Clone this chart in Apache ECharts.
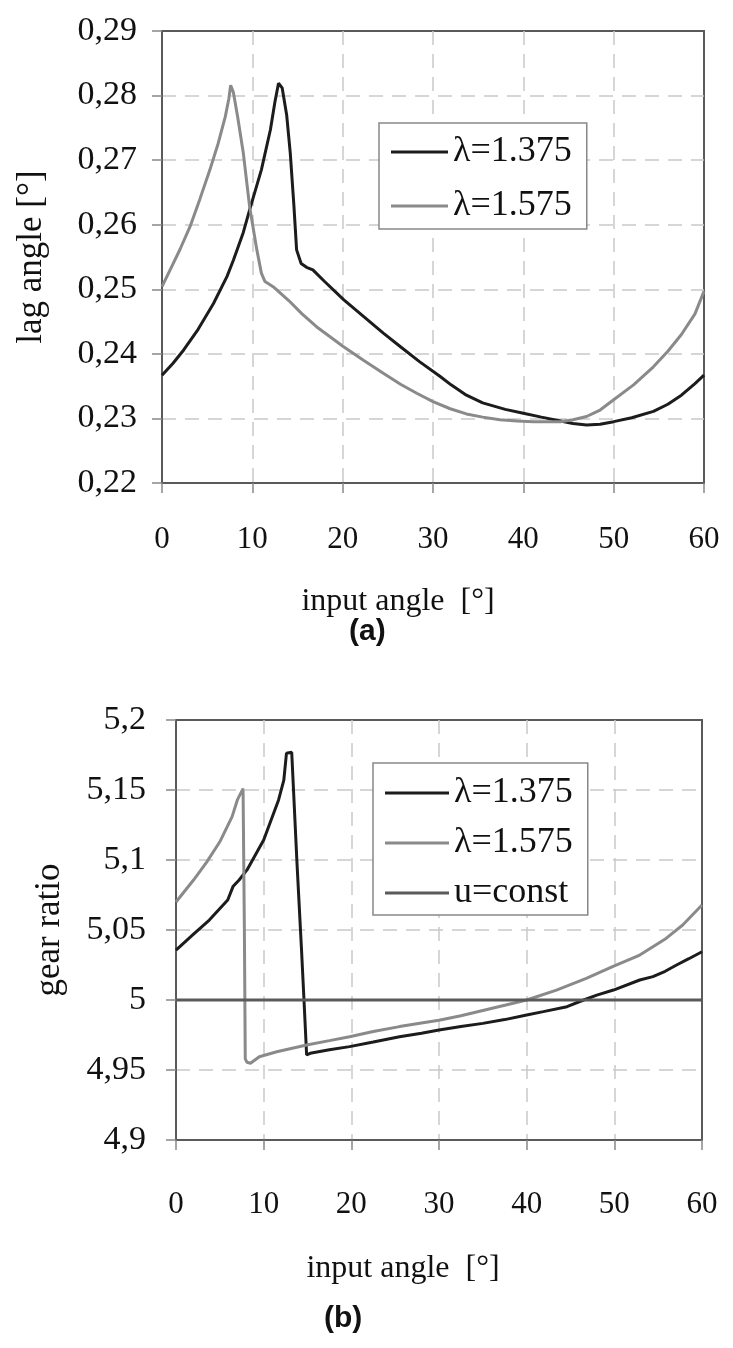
<!DOCTYPE html>
<html>
<head>
<meta charset="utf-8">
<script src="https://cdn.jsdelivr.net/npm/echarts@6/dist/echarts.min.js"></script>
<style>
  html, body { margin: 0; padding: 0; background: #fff; }
  #chart { width: 733px; height: 1348px; }
</style>
</head>
<body>
<div id="chart"></div>
<script>
// ---------- (a) lag angle ----------
const lagAngleX1 = [0, 1.2, 2.4, 4, 5.7, 7.2, 7.9, 9, 9.7, 11, 12, 12.5, 12.9, 13.3, 13.8, 14.2, 14.6, 14.9, 15.4, 16, 16.7, 18, 20.1, 22.3, 24.5, 26.4, 28.5, 30.8, 32, 33.7, 35.5, 38, 40, 42, 44.1, 45.5, 47, 48.5, 50, 52, 54.4, 56, 57.5, 59, 60];
const lagAngleY1 = [0.2367, 0.2385, 0.2406, 0.2438, 0.2478, 0.2520, 0.2545, 0.2588, 0.2623, 0.2685, 0.2747, 0.2790, 0.2819, 0.2812, 0.2770, 0.2711, 0.2630, 0.2561, 0.2540, 0.2534, 0.2530, 0.2512, 0.2484, 0.2458, 0.2432, 0.2411, 0.2388, 0.2365, 0.2352, 0.2336, 0.2324, 0.2314, 0.2308, 0.2302, 0.2296, 0.2292, 0.2290, 0.2291, 0.2295, 0.2301, 0.2311, 0.2322, 0.2336, 0.2354, 0.2367];
const lagAngleX2 = [0, 0.9, 2, 3.1, 4.2, 5.3, 6.2, 7.0, 7.4, 7.6, 7.9, 8.4, 9.0, 9.7, 10.5, 11.0, 11.4, 12.3, 14, 15.5, 17.1, 20.1, 22.3, 24.5, 26.4, 28.2, 30, 31.9, 33.7, 35.5, 37.4, 39.3, 41.1, 44.1, 45.5, 47, 48.5, 50, 52.2, 54.4, 56, 57.5, 59, 60];
const lagAngleY2 = [0.2504, 0.2530, 0.2562, 0.2597, 0.2640, 0.2685, 0.2725, 0.2767, 0.2795, 0.2816, 0.2805, 0.2765, 0.2711, 0.2628, 0.2561, 0.2525, 0.2512, 0.2504, 0.2483, 0.2462, 0.2442, 0.2411, 0.2390, 0.2370, 0.2353, 0.2339, 0.2326, 0.2315, 0.2307, 0.2302, 0.2298, 0.2296, 0.2295, 0.2295, 0.2298, 0.2303, 0.2313, 0.2329, 0.2352, 0.2380, 0.2404, 0.2430, 0.2462, 0.2497];

// ---------- (b) gear ratio ----------
const gearX1 = [0, 2, 3.8, 5.9, 6.5, 7.2, 8.1, 10, 11.7, 12.3, 12.6, 13.2, 13.8, 14.3, 14.6, 14.9, 15.3, 17.5, 19.8, 22.5, 25.5, 28, 30, 32.5, 35, 37.5, 40, 41.9, 44.6, 46.5, 48, 49.9, 52.9, 54.4, 55.8, 57.1, 58.5, 60];
const gearY1 = [5.0357, 5.0470, 5.0571, 5.0714, 5.0810, 5.0857, 5.0929, 5.1143, 5.1429, 5.1571, 5.1762, 5.1770, 5.0980, 5.0380, 5.0000, 4.9607, 4.9619, 4.9645, 4.9667, 4.9700, 4.9738, 4.9762, 4.9786, 4.9810, 4.9833, 4.9860, 4.9893, 4.9917, 4.9952, 5.0000, 5.0035, 5.0071, 5.0143, 5.0167, 5.0205, 5.0250, 5.0295, 5.0345];
const gearX2 = [0, 2.0, 3.5, 5.0, 6.4, 7.0, 7.65, 7.8, 7.9, 8.1, 8.5, 9.5, 11.5, 14.9, 17.5, 19.8, 22.5, 25.5, 28, 30, 32.5, 35, 37.5, 40, 43.4, 46.8, 49.8, 52.9, 55.9, 57.8, 60];
const gearY2 = [5.0700, 5.0857, 5.0985, 5.1130, 5.1310, 5.1429, 5.1510, 5.0500, 4.9580, 4.9555, 4.9548, 4.9595, 4.9630, 4.9679, 4.9710, 4.9738, 4.9775, 4.9810, 4.9836, 4.9855, 4.9887, 4.9925, 4.9962, 5.0000, 5.0071, 5.0155, 5.0238, 5.0321, 5.0440, 5.0536, 5.0679];
const constX = [0, 60];
const constY = [5, 5];

const seriesNames = ['λ=1.375', 'λ=1.575', 'u=const'];

const zip = (xs, ys) => xs.map((x, i) => [x, ys[i]]);
const fmt = v => String(+(+v).toFixed(3)).replace('.', ',');

const SERIF = '"Liberation Serif", "Times New Roman", serif';
const DARK = '#1c1c1c', GRAY = '#8a8a8a', CONST = '#5a5a5a';
const txt = { color: '#111', fontFamily: SERIF, fontSize: 32 };
const split = { show: true, showMinLine: false, showMaxLine: false, lineStyle: { color: '#c9c9c9', width: 1.5, type: [14, 9] } };

function xAxis(gridIndex, margin, nameGap, shift) {
  return {
    type: 'value', gridIndex, min: 0, max: 60, interval: 10,
    name: 'input angle  [°]', nameLocation: 'middle', nameGap,
    nameTextStyle: Object.assign({}, txt, { padding: [0, shift, 0, 0] }),
    axisLine: { show: true, lineStyle: { color: '#5a5a5a', width: 2 } },
    axisTick: { show: true, length: 10, lineStyle: { color: '#888', width: 1.5 } },
    axisLabel: Object.assign({}, txt, { fontSize: 31, margin }),
    splitLine: split
  };
}
function yAxis(gridIndex, name, min, max, interval, margin, nameGap) {
  return {
    type: 'value', gridIndex, min, max, interval,
    name, nameLocation: 'middle', nameGap, nameRotate: 90,
    nameTextStyle: Object.assign({}, txt, { fontSize: 35 }),
    axisLine: { show: true, lineStyle: { color: '#5a5a5a', width: 2 } },
    axisTick: { show: true, length: 10, lineStyle: { color: '#888', width: 1.5 } },
    axisLabel: Object.assign({}, txt, { fontSize: 34, margin, formatter: fmt }),
    splitLine: split
  };
}
function line(name, data, color, xi, width) {
  return {
    type: 'line', name, data, xAxisIndex: xi, yAxisIndex: xi,
    symbol: 'none', smooth: false, animation: false,
    lineStyle: { color, width: width || 3 }, itemStyle: { color }
  };
}
function legend(names, left, top, padding, gap, iw) {
  return {
    data: names.map(n => ({ name: n })),
    orient: 'vertical', left, top, padding, itemGap: gap,
    icon: 'rect', itemWidth: iw, itemHeight: 3,
    borderColor: '#888', borderWidth: 1.5, backgroundColor: '#fff',
    textStyle: Object.assign({}, txt, { fontSize: 36, lineHeight: 36 }),
    selectedMode: false, formatter: n => n.trim()
  };
}

const chart = echarts.init(document.getElementById('chart'), null, { renderer: 'canvas' });
chart.setOption({
  animation: false,
  backgroundColor: '#fff',
  grid: [
    { left: 162, top: 31, width: 542, height: 452, show: true, borderColor: '#5a5a5a', borderWidth: 2, containLabel: false },
    { left: 176, top: 720, width: 526, height: 420, show: true, borderColor: '#5a5a5a', borderWidth: 2, containLabel: false }
  ],
  xAxis: [xAxis(0, 41, 103, 70), xAxis(1, 49, 113, 72)],
  yAxis: [
    yAxis(0, 'lag angle [°]', 0.22, 0.29, 0.01, 25, 113),
    yAxis(1, 'gear ratio', 4.9, 5.2, 0.05, 30, 109)
  ],
  legend: [
    legend([seriesNames[0], seriesNames[1]], 379, 123, [11, 15, 5, 12], 18, 57),
    legend([seriesNames[0] + ' ', seriesNames[1] + ' ', seriesNames[2]], 373, 763, [12, 15, 4, 12], 14, 64)
  ],
  series: [
    line(seriesNames[0], zip(lagAngleX1, lagAngleY1), DARK, 0),
    line(seriesNames[1], zip(lagAngleX2, lagAngleY2), GRAY, 0),
    line(seriesNames[0] + ' ', zip(gearX1, gearY1), DARK, 1),
    line(seriesNames[1] + ' ', zip(gearX2, gearY2), GRAY, 1),
    line(seriesNames[2], zip(constX, constY), CONST, 1)
  ],
  graphic: [
    { type: 'text', left: 349, top: 617, style: { text: '(a)', font: 'bold 30px "Liberation Sans", Arial, sans-serif', fill: '#111' } },
    { type: 'text', left: 324, top: 1304, style: { text: '(b)', font: 'bold 30px "Liberation Sans", Arial, sans-serif', fill: '#111' } }
  ]
});
</script>
</body>
</html>
